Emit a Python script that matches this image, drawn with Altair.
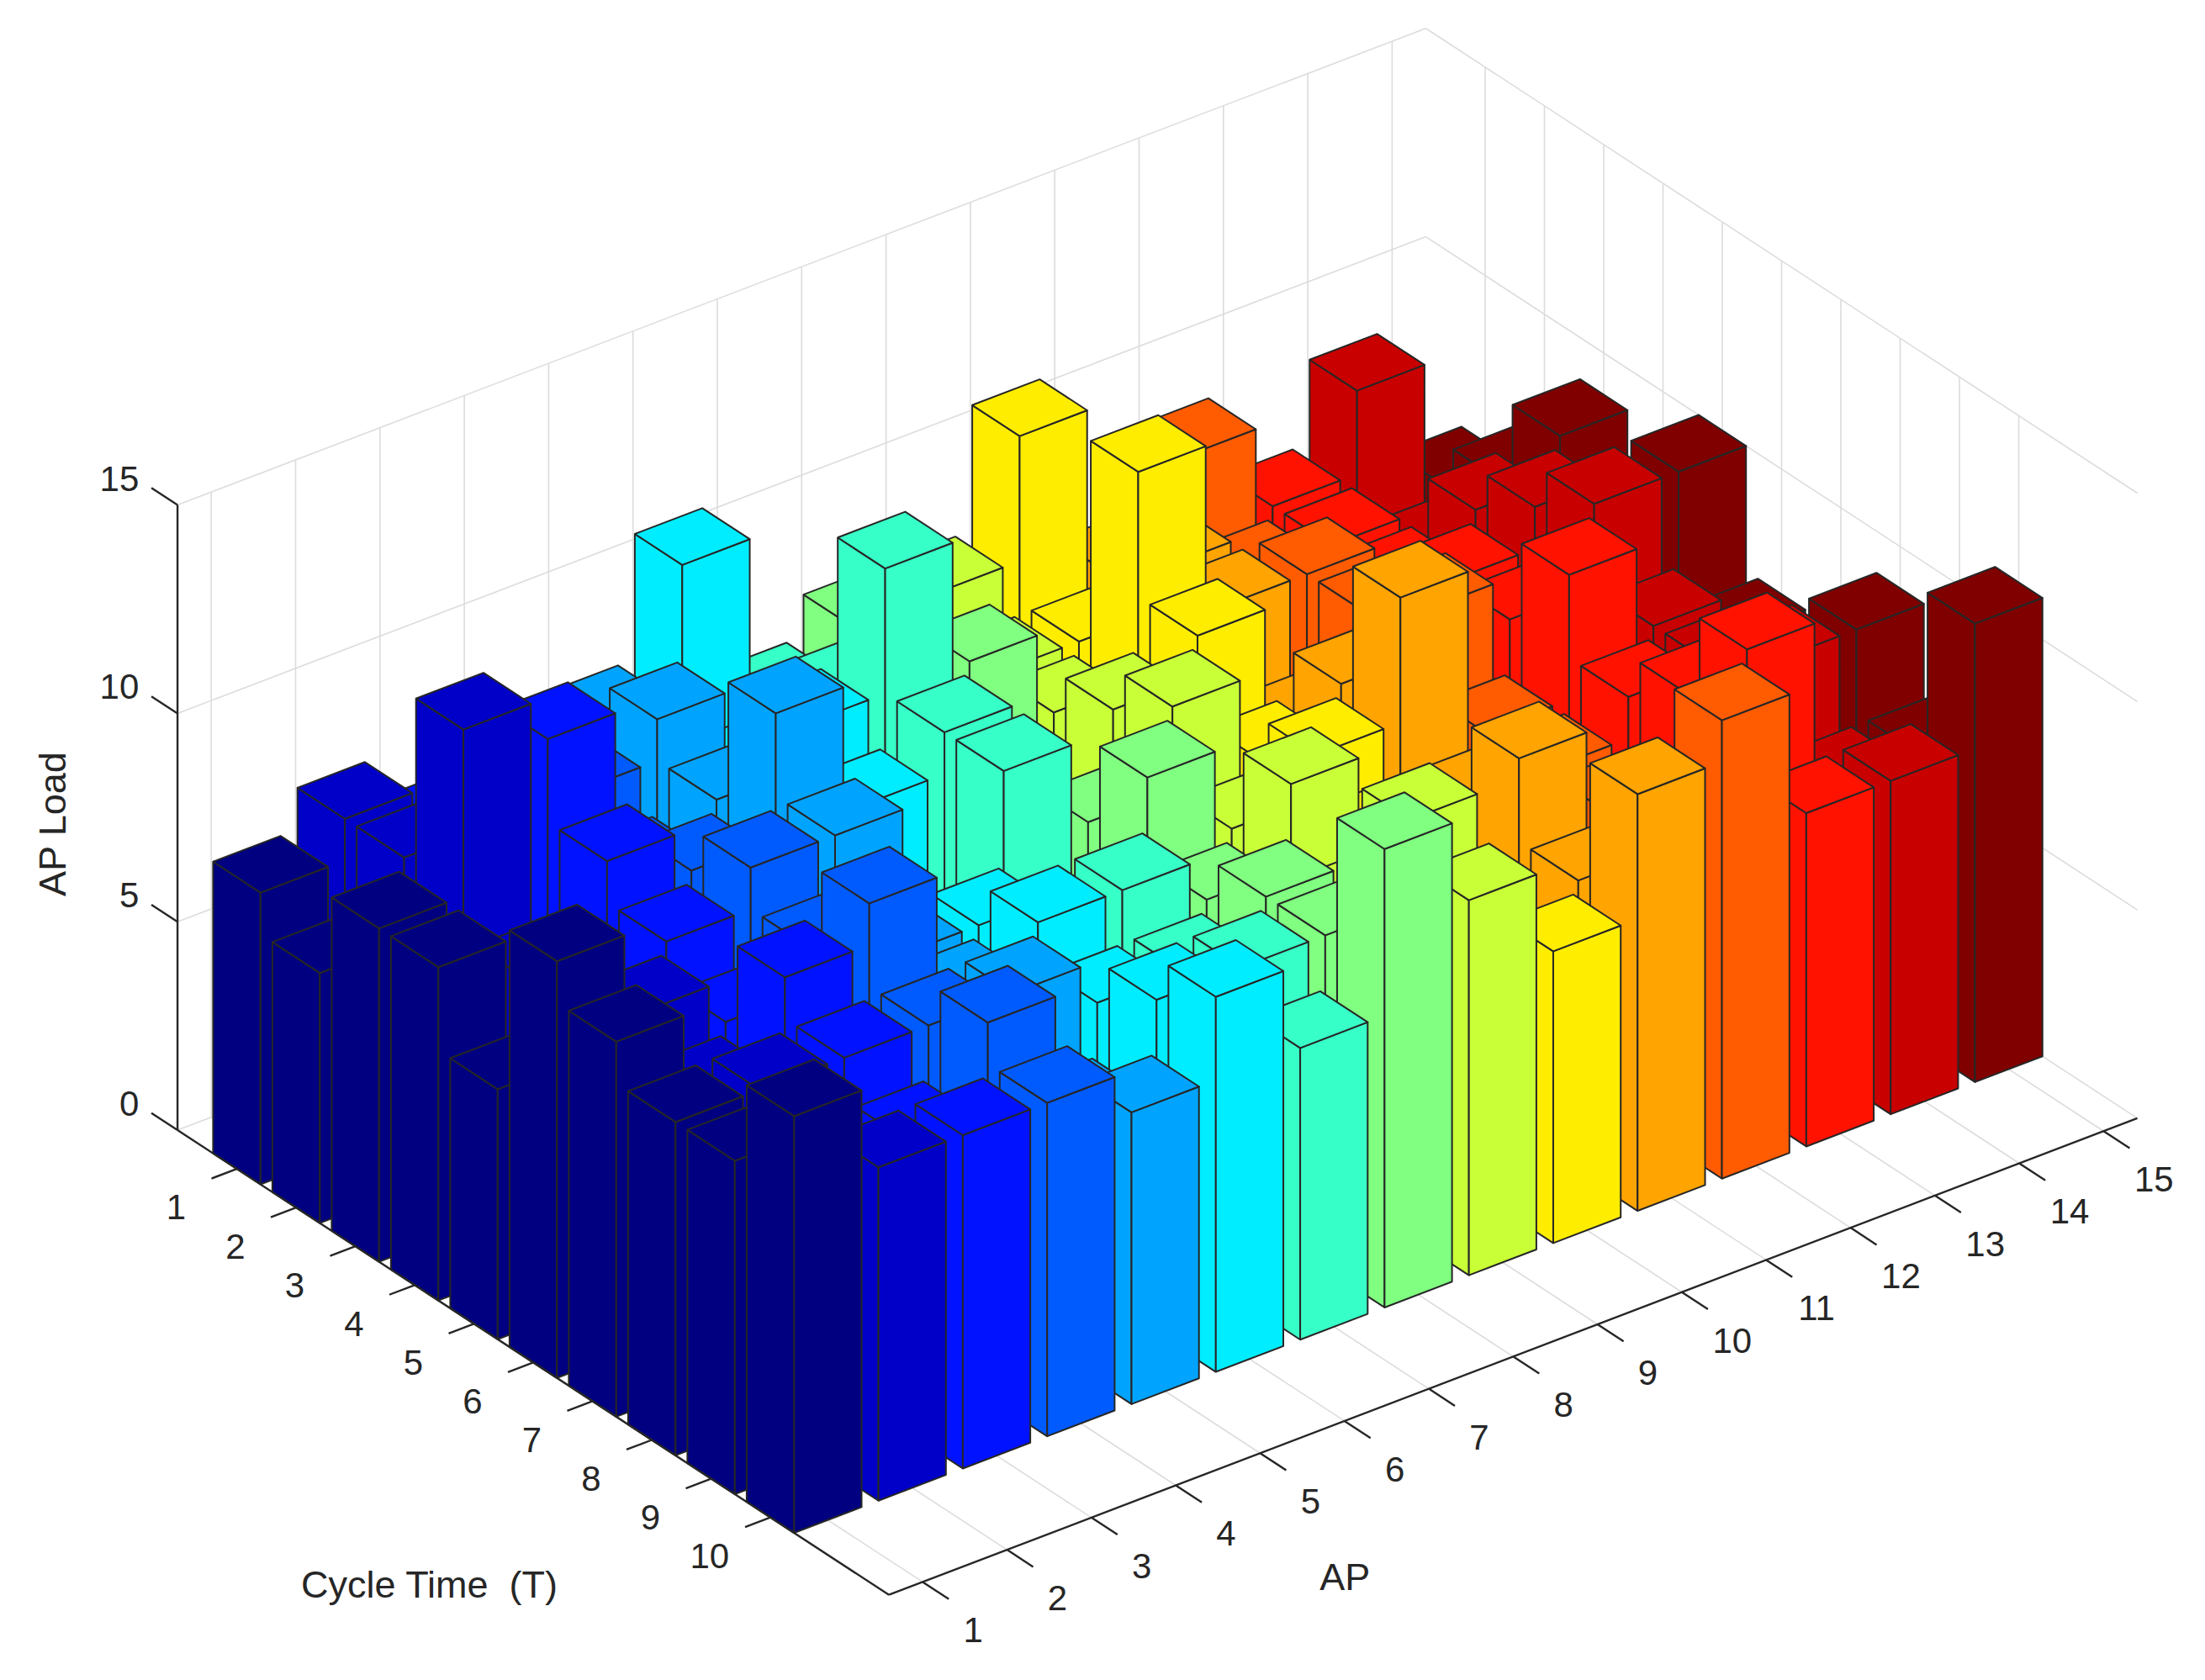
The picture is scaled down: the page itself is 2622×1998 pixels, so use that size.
import altair as alt
import pandas as pd

# ---------------- data ----------------
T_TICKS = [1, 2, 3, 4, 5, 6, 7, 8, 9, 10]          # Cycle Time (T)
AP_TICKS = list(range(1, 16))                        # AP
Z_TICKS = [0, 5, 10, 15]                             # AP Load

# AP load for each AP, listed for T = 1..10
AP1 = [7, 6, 8, 8, 6, 10, 9, 8, 8, 10]
AP2 = [8, 8, 12, 7, 6, 8, 7, 8, 7, 8]
AP3 = [7, 7, 11, 9, 8, 7, 9, 8, 7, 8]
AP4 = [7, 8, 7, 8, 9, 8, 10, 8, 9, 8]
AP5 = [8, 9, 8, 11, 9, 7, 7, 8, 6, 7]
AP6 = [11, 7, 9, 8, 5, 7, 8, 7, 8, 9]
AP7 = [7, 8, 12, 9, 9, 6, 8, 7, 8, 7]
AP8 = [8, 7, 9, 6, 7, 9, 7, 8, 8, 11]
AP9 = [8, 7, 7, 8, 9, 7, 9, 7, 10, 9]
AP10 = [11, 7, 12, 9, 7, 8, 7, 6, 6, 7]
AP11 = [7, 8, 8, 6, 8, 11, 7, 9, 7, 10]
AP12 = [9, 7, 8, 8, 9, 7, 7, 7, 8, 11]
AP13 = [7, 7, 7, 8, 8, 10, 8, 9, 11, 8]
AP14 = [9, 6, 8, 9, 10, 8, 8, 9, 7, 8]
AP15 = [6, 7, 9, 8, 10, 7, 6, 9, 7, 11]
LOADS = [AP1, AP2, AP3, AP4, AP5, AP6, AP7, AP8, AP9, AP10,
         AP11, AP12, AP13, AP14, AP15]

# jet colormap sampled for 15 series
JET15 = ["#000080", "#0000C8", "#0012FF", "#005BFF", "#00A4FF",
         "#00EDFF", "#37FFC8", "#80FF80", "#C8FF37", "#FFED00",
         "#FFA400", "#FF5B00", "#FF1200", "#C80000", "#800000"]

TITLE_T = "Cycle Time\u00a0 (T)"
TITLE_AP = "AP"
TITLE_Z = "AP Load"

# axis limits of the 3-D box
T_LIM = (0, 12)
AP_LIM = (0.6, 15.4)
Z_LIM = (0, 15)

# ---------------- view / projection (style) ----------------
W, H = 2606, 1982
OX, OY = 142.9, 1359.0          # screen position of (t=0, ap=0, z=0)
TX, TY = 70.5, 46.06            # screen step per unit of T
AX, AY = 100.3, -38.3           # screen step per unit of AP
ZY = 49.56                      # screen step per unit of load
HALF = 0.4                      # half bar width

INK = "#262626"
GRID = "#dcdcdc"
FONT = "Liberation Sans"
FS = 42
FS_TITLE = 45


def px(t, a):
    return f"{OX} + ({t})*{TX} + ({a})*{AX}"


def py(t, a, z):
    return f"{OY} + ({t})*{TY} + ({a})*({AY}) - ({z})*{ZY}"


xs = alt.Scale(domain=[0, W], nice=False, zero=False)
ys = alt.Scale(domain=[0, H], nice=False, zero=False, reverse=True)

# ---------------- bars (painter order: back to front) ----------------
rows = []
for t in T_TICKS:
    for ap in reversed(AP_TICKS):
        rows.append({"t": t, "ap": ap, "load": LOADS[ap - 1][t - 1]})
bars_df = pd.DataFrame(rows)

tt = (f"datum.face === 'R' ? datum.t + {HALF} : "
      f"((datum.k === 0 || datum.k === 3) ? datum.t - {HALF} : datum.t + {HALF})")
aa = (f"datum.face === 'L' ? datum.ap - {HALF} : "
      f"(datum.face === 'R' ? ((datum.k === 0 || datum.k === 3) ? datum.ap - {HALF} : datum.ap + {HALF}) "
      f": (datum.k >= 2 ? datum.ap + {HALF} : datum.ap - {HALF}))")
zz = "datum.face === 'T' ? datum.load : (datum.k >= 2 ? datum.load : 0)"

bars = (
    alt.Chart(bars_df)
    .transform_calculate(face="['L','R','T']")
    .transform_flatten(["face"])
    .transform_calculate(vert="[0,1,2,3,4]")
    .transform_flatten(["vert"])
    .transform_calculate(k="datum.vert % 4",
                         fid="datum.t + '_' + datum.ap + '_' + datum.face")
    .transform_calculate(tt=tt, aa=aa, zz=zz)
    .transform_calculate(sx=px("datum.tt", "datum.aa"),
                         sy=py("datum.tt", "datum.aa", "datum.zz"))
    .mark_line(stroke=INK, strokeWidth=2, strokeJoin="round")
    .encode(
        x=alt.X("sx:Q", scale=xs, axis=None),
        y=alt.Y("sy:Q", scale=ys, axis=None),
        fill=alt.Fill("ap:O", scale=alt.Scale(domain=AP_TICKS, range=JET15), legend=None),
        detail="fid:N",
        order="vert:Q",
    )
)

# ---------------- grid, axis lines and ticks ----------------
seg = []
t0, t1 = T_LIM
a0, a1 = AP_LIM
z0, z1 = Z_LIM
for t in T_TICKS:
    seg.append((t, a0, 0, t, a1, 0, "grid"))          # floor
    seg.append((t, a1, z0, t, a1, z1, "grid"))        # right back wall
for ap in AP_TICKS:
    seg.append((t0, ap, 0, t1, ap, 0, "grid"))        # floor
    seg.append((t0, ap, z0, t0, ap, z1, "grid"))      # left back wall
for z in Z_TICKS:
    seg.append((t0, a0, z, t0, a1, z, "grid"))        # left back wall
    seg.append((t0, a1, z, t1, a1, z, "grid"))        # right back wall
seg.append((t0, a0, z0, t0, a0, z1, "axis"))          # z axis
seg.append((t0, a0, 0, t1, a0, 0, "axis"))            # T axis
seg.append((t1, a0, 0, t1, a1, 0, "axis"))            # AP axis
for z in Z_TICKS:
    seg.append((t0, a0, z, t0 - 0.44, a0, z, "axis"))
for t in T_TICKS:
    seg.append((t, a0, 0, t, a0 - 0.3, 0, "axis"))
for ap in AP_TICKS:
    seg.append((t1, ap, 0, t1 + 0.44, ap, 0, "axis"))
seg_df = pd.DataFrame(seg, columns=["t0", "a0", "z0", "t1", "a1", "z1", "kind"])

seg_base = alt.Chart(seg_df).transform_calculate(
    sx=px("datum.t0", "datum.a0"),
    sy=py("datum.t0", "datum.a0", "datum.z0"),
    sx2=px("datum.t1", "datum.a1"),
    sy2=py("datum.t1", "datum.a1", "datum.z1"),
)
seg_enc = dict(
    x=alt.X("sx:Q", scale=xs, axis=None),
    y=alt.Y("sy:Q", scale=ys, axis=None),
    x2="sx2:Q",
    y2="sy2:Q",
)
grid = seg_base.transform_filter("datum.kind === 'grid'").mark_rule(
    color=GRID, strokeWidth=1.6).encode(**seg_enc)
axes = seg_base.transform_filter("datum.kind === 'axis'").mark_rule(
    color=INK, strokeWidth=2.4).encode(**seg_enc)

# ---------------- labels ----------------
lab = []
for z in Z_TICKS:
    lab.append((str(z), t0 - 0.65, a0, z, "z"))
for t in T_TICKS:
    lab.append((str(t), t, -0.12, -0.4, "c"))
for ap in AP_TICKS:
    lab.append((str(ap), 12.85, ap, -0.4, "c"))
lab.append((TITLE_T, 9.0, -2.74, 0, "tc"))
lab.append((TITLE_AP, 14.57, 4.2, 0, "tc"))
lab.append((TITLE_Z, -2.09, a0, 5.4, "v"))
lab_df = pd.DataFrame(lab, columns=["text", "t", "a", "z", "kind"])

lab_base = alt.Chart(lab_df).transform_calculate(
    sx=px("datum.t", "datum.a"), sy=py("datum.t", "datum.a", "datum.z"))
lab_enc = dict(x=alt.X("sx:Q", scale=xs, axis=None),
               y=alt.Y("sy:Q", scale=ys, axis=None),
               text="text:N")
z_labels = lab_base.transform_filter("datum.kind === 'z'").mark_text(
    align="right", baseline="middle", font=FONT, fontSize=FS, color=INK).encode(**lab_enc)
c_labels = lab_base.transform_filter("datum.kind === 'c'").mark_text(
    align="center", baseline="middle", font=FONT, fontSize=FS, color=INK).encode(**lab_enc)
t_titles = lab_base.transform_filter("datum.kind === 'tc'").mark_text(
    align="center", baseline="middle", font=FONT, fontSize=FS_TITLE, color=INK).encode(**lab_enc)
v_labels = lab_base.transform_filter("datum.kind === 'v'").mark_text(
    align="center", baseline="middle", angle=270, font=FONT, fontSize=FS_TITLE, color=INK).encode(**lab_enc)

chart = (
    alt.layer(grid, bars, axes, z_labels, c_labels, t_titles, v_labels)
    .properties(width=W, height=H, padding=0,
                autosize=alt.AutoSizeParams(type="none"),
                background="white")
    .configure_view(stroke=None)
)

chart.save("out.html", embed_options={"renderer": "svg", "actions": False})
